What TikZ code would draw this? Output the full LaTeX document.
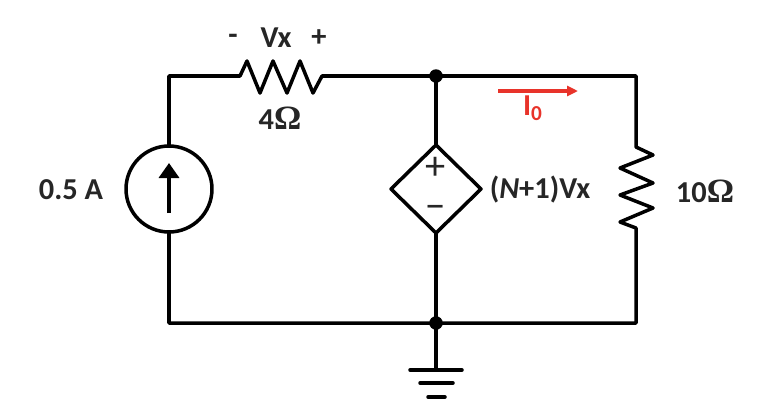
\documentclass[tikz,border=0pt]{standalone}
\usepackage{fontspec}
\setmainfont{Carlito}
\newfontfamily\symbfont{Liberation Serif}[Scale=1.12]
\usetikzlibrary{shapes.geometric,arrows.meta}
\newcommand{\ohm}{{\symbfont Ω}}
\definecolor{currred}{HTML}{E8332A}

\begin{document}
\begin{tikzpicture}[x=0.02cm,y=-0.02cm,line width=2pt,line join=round,
  lab/.style={font=\fontsize{17.3}{18}\selectfont\bfseries,text=black!85,inner sep=0pt},
  sign/.style={font=\fontsize{23}{24}\selectfont,text=black!85,inner sep=0pt},
  junction/.style={circle,fill=black,inner sep=0pt,minimum size=0.27cm},
  bar/.style={line cap=round}]
 \useasboundingbox (0,0) rectangle (760,416);

 % Corners and junctions
 \coordinate (TL) at (169,76);
 \coordinate (TR) at (636,76);
 \coordinate (BL) at (169,323);
 \coordinate (BR) at (636,323);
 \node[junction] (top) at (436,76) {};
 \node[junction] (bot) at (436,323) {};

 % Sources
 \node[draw,circle,inner sep=0pt,outer sep=0pt,minimum size=1.72cm] (isrc) at (169,189) {};
 \node[draw,diamond,aspect=1,inner sep=0pt,outer sep=0pt,minimum width=1.8cm,minimum height=1.76cm] (vsrc) at (436,189) {};

 % Wires, with the two resistors in line
 \draw (isrc.north) -- (TL) -- (240,76) -- (247,61) -- (260,93) -- (273,61) -- (287,93)
      -- (300,61) -- (313,93) -- (322,76) -- (top.center) -- (TR) -- (636,147)
      -- (653,155) -- (620,168) -- (653,183) -- (620,195) -- (653,208) -- (620,222)
      -- (636,228) -- (BR) -- (bot.center) -- (BL) -- (isrc.south);
 \draw (top.center) -- (vsrc.north);
 \draw (vsrc.south) -- (bot.center);

 % Arrow of the current source
 \coordinate (Ua) at (169,213);
 \coordinate (Ub) at (169,163);
 \draw[-{Triangle[length=0.3cm,width=0.4cm]}] (Ua) -- (Ub);

 % Ground
 \coordinate (G1) at (436,370);
 \draw (bot.center) -- (G1);
 \draw[bar] (410,370) -- (462,370);
 \draw[bar] (420,383) -- (453,383);
 \draw[bar] (428,397) -- (445,397);

 % Current
 \coordinate (Ia) at (498,91);
 \coordinate (Ib) at (578,91);
 \draw[currred,-{Triangle[length=0.22cm,width=0.2cm]}] (Ia) -- (Ib);
 \node[lab,text=currred] (io) at (533,108) {I\textsubscript{0}};

 % Labels
 \node[lab] (vm) at (233,39) {-};
 \node[lab] (vx) at (276,38) {Vx};
 \node[lab] (vp) at (319,38) {+};
 \node[lab] (ra) at (280,118) {4\ohm};
 \node[lab] (is) at (71,190) {0.5 A};
 \node[sign] (sp) at (436,168) {+};
 \node[sign] (sm) at (436,212) {\textminus};
 \node[lab] (gain) at (540,190) {(\textit{N}+1)Vx};
 \node[lab] (rb) at (705,191) {10\ohm};
\end{tikzpicture}
\end{document}
